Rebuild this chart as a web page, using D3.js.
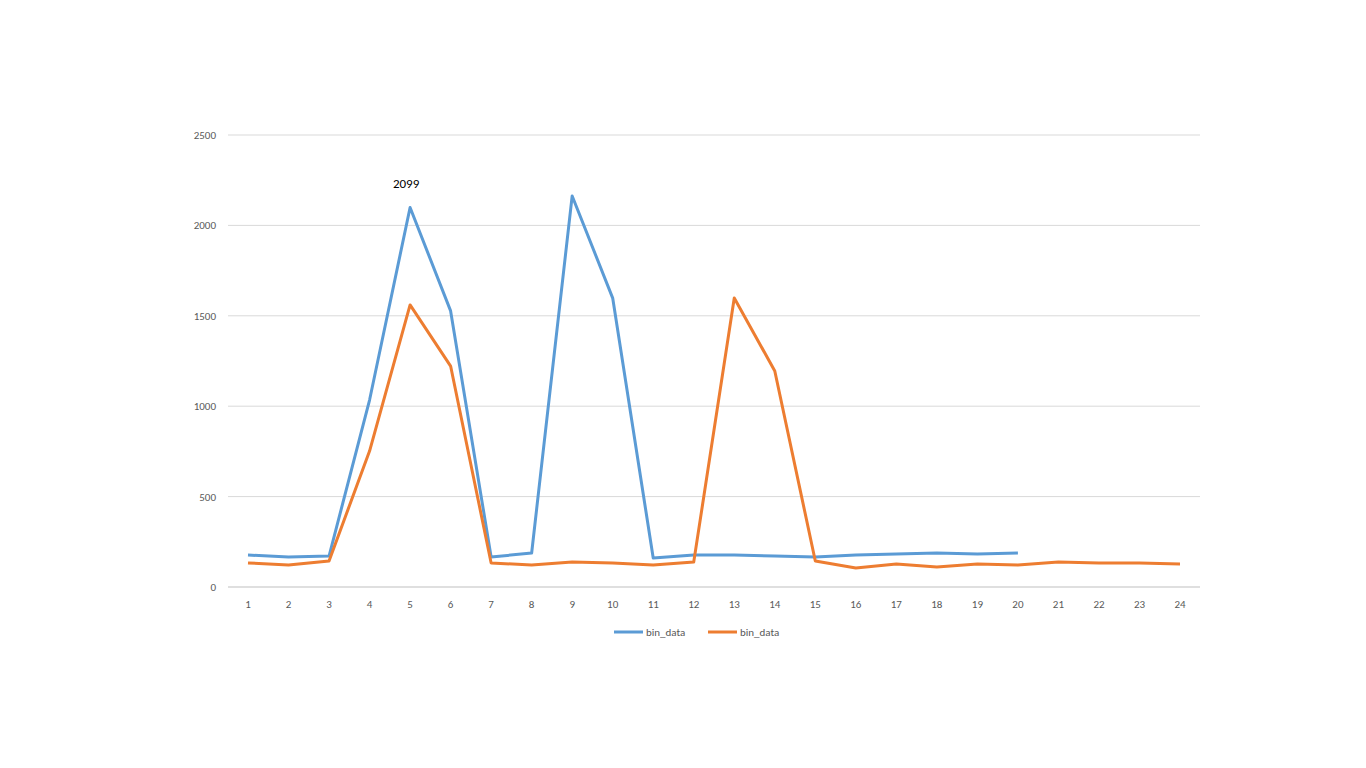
<!DOCTYPE html><html><head><meta charset="utf-8"><script src="https://cdn.jsdelivr.net/npm/d3@7"></script>
<style>body{margin:0;background:#fff}text{font-family:Calibri,Carlito,"Liberation Sans",sans-serif}</style></head><body><svg id="c" width="1366" height="768"></svg><script>
const categories=d3.range(1,25).map(String);
const seriesNames=["bin_data","bin_data"];
const blue=[177,166,171,1034,2099,1527,166,188,2163,1598,160,177,177,171,166,177,182,188,182,188];
const orange=[133,122,144,752,1560,1222,133,122,138,133,122,138,1598,1195,144,105,127,111,127,122,138,133,133,127];
const yTicks=[0,500,1000,1500,2000,2500];
const colors=["#5b9bd5","#ed7d31"];
const svg=d3.select("#c");
const x=d3.scalePoint().domain(categories).range([248,1180]);
const y=d3.scaleLinear().domain([0,2500]).range([587,135]);
svg.append("g").selectAll("line").data(yTicks).join("line").attr("x1",228).attr("x2",1200).attr("y1",d=>y(d)).attr("y2",d=>y(d)).attr("stroke",d=>d===0?"#bfbfbf":"#d9d9d9");
svg.append("g").selectAll("text").data(yTicks).join("text").attr("x",216).attr("y",d=>y(d)+4).attr("text-anchor","end").attr("font-size",11).attr("fill","#595959").text(d=>d);
svg.append("g").selectAll("text").data(categories).join("text").attr("x",d=>x(d)).attr("y",608).attr("text-anchor","middle").attr("font-size",11).attr("fill","#595959").text(d=>d);
const line=d3.line().x((d,i)=>x(categories[i])).y(d=>y(d));
[blue,orange].forEach((s,k)=>svg.append("path").attr("d",line(s)).attr("fill","none").attr("stroke",colors[k]).attr("stroke-width",3).attr("stroke-linejoin","round"));
svg.append("text").attr("x",x("5")-4).attr("y",y(2099)-20).attr("text-anchor","middle").attr("font-size",13).attr("fill","#000").text(blue[4]);
seriesNames.forEach((n,k)=>{const lx=614+k*94;
svg.append("line").attr("x1",lx).attr("x2",lx+29).attr("y1",632).attr("y2",632).attr("stroke",colors[k]).attr("stroke-width",3);
svg.append("text").attr("x",lx+32).attr("y",636).attr("font-size",11).attr("fill","#595959").text(n);});
</script></body></html>
